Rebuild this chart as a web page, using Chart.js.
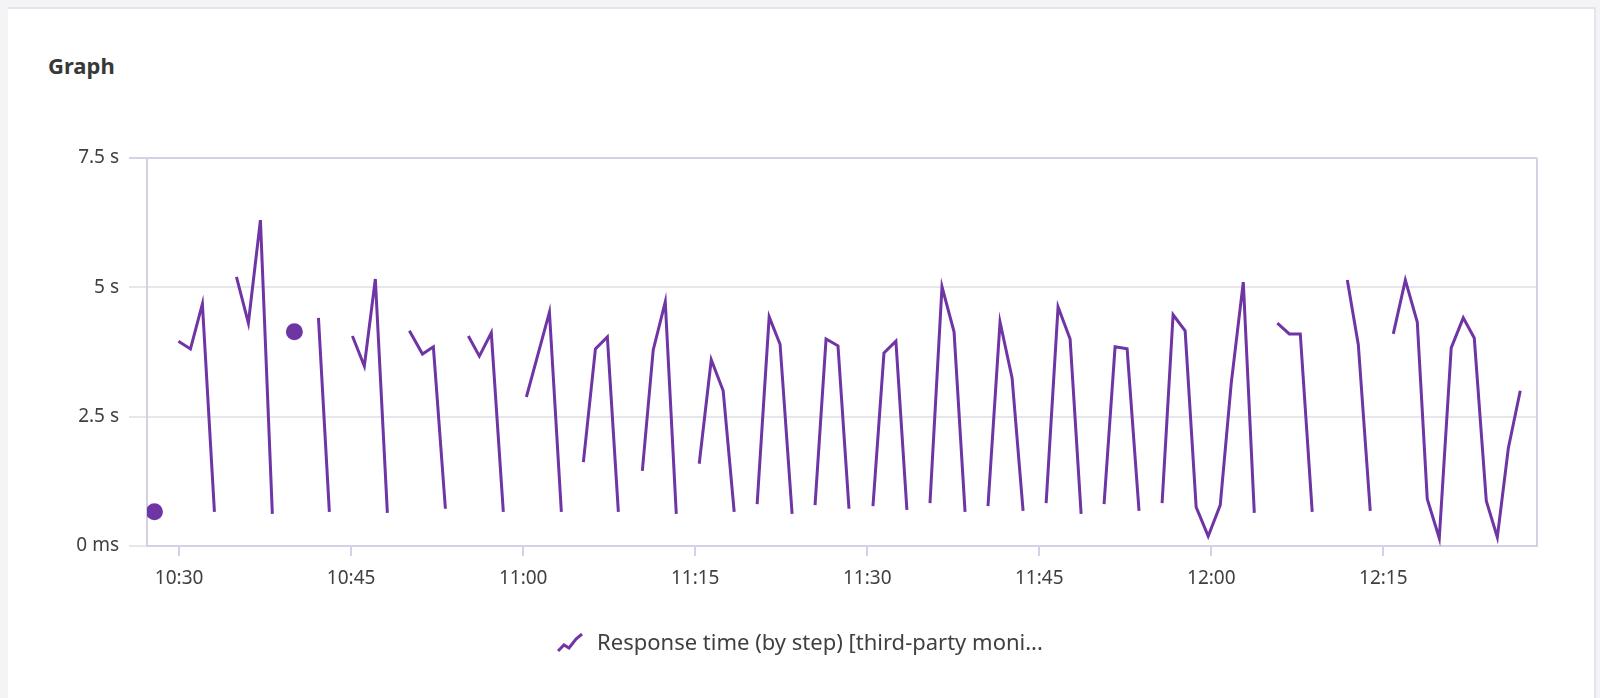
<!DOCTYPE html>
<html>
<head>
<meta charset="utf-8">
<script src="https://cdn.jsdelivr.net/npm/chart.js@4/dist/chart.umd.min.js"></script>
<style>
  html, body { margin: 0; padding: 0; background: #f4f4f6; }
  body { width: 1600px; height: 698px; position: relative; overflow: hidden; font-family: "Noto Sans", sans-serif; }
  .card { position: absolute; left: 8px; top: 7px; width: 1586px; height: 700px; background: #fff; border-top: 2px solid #e4e4ea; border-right: 2px solid #e4e4ea; }
  h2 { position: absolute; left: 48px; top: 50px; margin: 0; font-size: 22px; font-weight: 700; color: #383838; }
  #chart { position: absolute; left: 0; top: 0; }
  .legend { position: absolute; left: 0; width: 1600px; top: 626px; text-align: center; font-size: 22px; color: #404040; }
  .legend svg { vertical-align: -3px; margin-right: 14px; }
</style>
</head>
<body>
<div class="card"></div>
<h2>Graph</h2>
<canvas id="chart" width="1600" height="698"></canvas>
<div class="legend"><svg width="26" height="20" viewBox="0 0 26 20"><polyline points="1,18 7,12 12,15 19,6 25,1" fill="none" stroke="#6f35a5" stroke-width="3"/></svg>Response time (by step) [third-party moni...</div>
<script>
// minutes after 10:00, null value = gap in the series
const times = [27.85, 28.9,
  29.94, 30.99, 32.03, 33.08, 34.0,
  35.0, 36.04, 37.09, 38.13, 39.1,
  40.05, 41.1,
  42.15, 43.1, 44.1,
  45.11, 46.15, 47.11, 48.16, 49.1,
  50.08, 51.22, 52.17, 53.22, 54.2,
  55.22, 56.18, 57.22, 58.27, 59.3,
  60.28, 62.29, 63.33, 64.3,
  65.25, 66.3, 67.34, 68.3, 69.3,
  70.39, 71.34, 72.39, 73.35, 74.3,
  75.35, 76.4, 77.44, 78.4, 79.4,
  80.4, 81.45, 82.4, 83.45, 84.4,
  85.45, 86.41, 87.45, 88.41, 89.5,
  90.5, 91.46, 92.5, 93.46, 94.5,
  95.47, 96.52, 97.57, 98.53, 99.5,
  100.53, 101.58, 102.63, 103.59, 104.6,
  105.6, 106.64, 107.69, 108.65, 109.6,
  110.65, 111.61, 112.66, 113.7, 114.7,
  115.71, 116.67, 117.72, 118.68, 119.73, 120.78, 121.74, 122.79, 123.75, 124.7,
  125.76, 126.8, 127.76, 128.8, 130.3,
  131.86, 132.82, 133.86, 134.9,
  135.87, 136.92, 137.96, 138.83, 139.88, 140.92, 141.97, 142.93, 143.98, 144.94, 145.9, 146.94];
const values = [0.66, null,
  3.96, 3.81, 4.68, 0.66, null,
  5.20, 4.31, 6.30, 0.62, null,
  4.14, null,
  4.41, 0.66, null,
  4.06, 3.48, 5.16, 0.64, null,
  4.16, 3.71, 3.85, 0.72, null,
  4.06, 3.67, 4.12, 0.66, null,
  2.88, 4.52, 0.66, null,
  1.62, 3.81, 4.04, 0.66, null,
  1.45, 3.79, 4.72, 0.62, null,
  1.59, 3.60, 3.00, 0.66, null,
  0.81, 4.43, 3.90, 0.62, null,
  0.79, 4.00, 3.87, 0.72, null,
  0.77, 3.73, 3.96, 0.70, null,
  0.83, 5.01, 4.14, 0.66, null,
  0.77, 4.33, 3.25, 0.68, null,
  0.83, 4.62, 4.00, 0.62, null,
  0.81, 3.85, 3.81, 0.68, null,
  0.83, 4.47, 4.16, 0.75, 0.19, 0.79, 3.15, 5.10, 0.64, null,
  4.31, 4.10, 4.10, 0.66, null,
  5.14, 3.89, 0.68, null,
  4.10, 5.14, 4.33, 0.91, 0.15, 3.83, 4.41, 4.02, 0.87, 0.17, 1.89, 3.00];
const yTicks = [0, 2.5, 5, 7.5];
const xTicks = [30, 45, 60, 75, 90, 105, 120, 135];

const purple = '#6f35a5';
const points = times.map((t, i) => ({ x: t, y: values[i] }));
const isolated = i => values[i] !== null &&
  (i === 0 || values[i - 1] === null) && (i === values.length - 1 || values[i + 1] === null);

const fmtTime = m => {
  const h = 10 + Math.floor(m / 60);
  const mm = String(Math.round(m % 60)).padStart(2, '0');
  return h + ':' + mm;
};

new Chart(document.getElementById('chart'), {
  type: 'line',
  data: {
    datasets: [{
      data: points,
      borderColor: purple,
      backgroundColor: purple,
      borderWidth: 3,
      spanGaps: false,
      tension: 0,
      pointRadius: ctx => isolated(ctx.dataIndex) ? 7 : 0,
      pointHoverRadius: 0
    }]
  },
  options: {
    responsive: false,
    animation: false,
    layout: { padding: { left: 0, right: 63, top: 158, bottom: 0 } },
    plugins: { legend: { display: false }, tooltip: { enabled: false } },
    scales: {
      x: {
        type: 'linear',
        min: 27.2,
        max: 148.4,
        afterBuildTicks: s => { s.ticks = xTicks.map(v => ({ value: v })); },
        afterFit: s => { s.height = 152; },
        ticks: { callback: v => fmtTime(v), color: '#404040', font: { family: 'Noto Sans', size: 19 }, padding: 11, maxRotation: 0 },
        grid: { display: true, drawOnChartArea: false, color: '#d3d1e6', tickLength: 10, lineWidth: 2 },
        border: { color: '#d3d1e6', width: 2 }
      },
      y: {
        min: 0,
        max: 7.5,
        afterBuildTicks: s => { s.ticks = yTicks.map(v => ({ value: v })); },
        afterFit: s => { s.width = 147; },
        ticks: { callback: v => v === 0 ? '0 ms' : v + ' s', color: '#404040', font: { family: 'Noto Sans', size: 19 }, padding: 10 },
        grid: { color: ctx => ctx.tick && ctx.tick.value === 7.5 ? '#d3d1e6' : '#e6e6ec', tickLength: 18, lineWidth: 2 },
        border: { color: '#d3d1e6', width: 2 }
      }
    }
  },
  plugins: [{
    id: 'frame',
    afterDraw: c => {
      const a = c.chartArea, g = c.ctx;
      g.save();
      g.strokeStyle = '#d3d1e6';
      g.lineWidth = 2;
      g.beginPath();
      g.moveTo(a.right, a.top);
      g.lineTo(a.right, a.bottom);
      g.stroke();
      g.restore();
    }
  }]
});
</script>
</body>
</html>
